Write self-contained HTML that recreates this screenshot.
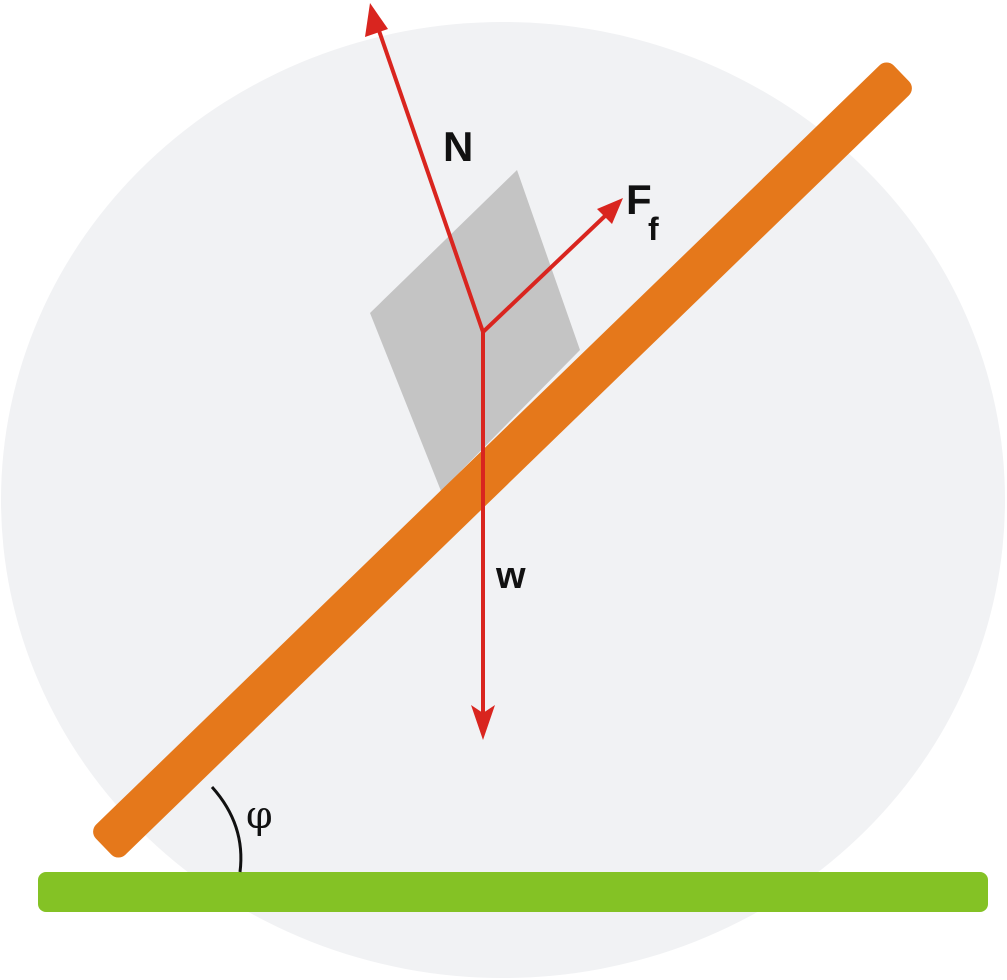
<!DOCTYPE html>
<html><head><meta charset="utf-8"><style>
html,body{margin:0;padding:0;background:#fff;}
svg{display:block;}
</style></head><body>
<svg width="1007" height="980" viewBox="0 0 1007 980" xmlns="http://www.w3.org/2000/svg">
<ellipse cx="503" cy="500" rx="502" ry="478" fill="#f1f2f4"/>
<polygon points="370,313 517,170 580,350 441,491" fill="#c4c4c4"/>
<rect x="-53" y="439" width="1111" height="42" rx="10" fill="#e5781b" transform="rotate(-44.1 502.5 460)"/>
<rect x="38" y="872" width="950" height="40" rx="8" fill="#84c225"/>
<path d="M212,787 Q246,825 240,872" fill="none" stroke="#111" stroke-width="3"/>
<g stroke="#d9251f" stroke-width="4" fill="none">
<line x1="483" y1="332" x2="376" y2="22"/>
<line x1="483" y1="332" x2="606" y2="215"/>
<line x1="483" y1="332" x2="483" y2="715"/>
</g>
<g fill="#d9251f">
<polygon points="370,3 365,37 388,29"/>
<polygon points="623,198 597,209 612,224"/>
<polygon points="483,740 471,705 483,713 495,705"/>
</g>
<g font-family="Liberation Sans, sans-serif" font-weight="bold" fill="#111">
<text x="443" y="161" font-size="42">N</text>
<text x="626" y="214" font-size="42">F</text>
<text x="648" y="240" font-size="32">f</text>
<text x="496" y="588" font-size="38">w</text>
</g>
<text x="246" y="828" font-family="DejaVu Serif, serif" font-size="38" fill="#111">φ</text>
</svg>
</body></html>
